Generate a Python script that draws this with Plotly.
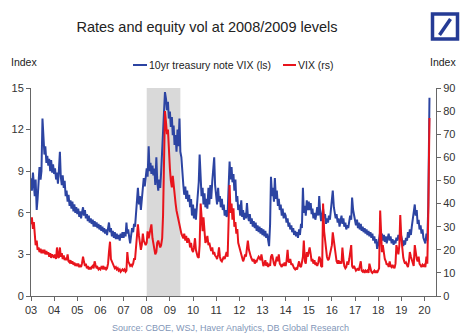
import pandas as pd
import plotly.graph_objects as go

# ---- data (semi-monthly readings, 1st and 15th of each month) ----
tyvix = [
    8.5,7.6,8.9,8.0,7.2,8.4,6.2,7.0,8.2,9.3,8.4,9.0,12.8,11.0,10.2,10.8,9.6,10.1,9.4,9.9,9.0,9.8,8.9,9.5,   # 2003
    8.8,9.2,8.4,8.9,8.1,9.0,10.4,8.6,8.0,8.7,7.8,8.3,7.2,7.6,6.8,7.3,6.5,6.9,6.3,6.8,6.1,6.6,6.0,6.4,      # 2004
    5.9,6.3,5.7,6.1,5.6,6.0,6.4,5.8,6.2,5.6,5.9,5.4,5.8,5.3,5.6,5.2,5.5,5.0,5.4,5.0,5.3,4.9,5.2,4.8,       # 2005
    5.1,4.7,5.0,4.6,4.9,4.5,4.8,4.4,5.0,5.3,4.6,4.9,4.3,4.7,4.2,4.6,4.1,4.5,4.1,4.4,4.0,4.5,4.2,4.6,       # 2006
    4.2,4.6,4.3,5.3,4.5,4.8,4.2,3.8,4.4,4.9,4.6,5.2,5.0,6.0,6.5,7.8,6.6,7.2,6.2,7.0,7.6,8.5,7.9,8.8,       # 2007
    9.2,8.6,10.8,9.0,9.6,8.8,9.4,8.7,9.2,8.0,10.0,8.3,7.6,8.4,7.8,8.9,10.5,12.8,13.6,14.7,14.2,13.4,14.0,12.8,  # 2008
    13.3,12.2,12.9,11.6,12.3,10.9,11.6,10.4,12.0,10.8,12.8,10.4,10.0,8.6,8.0,7.3,7.9,7.0,7.6,6.8,7.3,6.4,7.0,5.8,  # 2009
    6.6,5.6,6.3,5.5,6.2,6.8,8.2,10.2,8.4,7.2,7.8,6.6,7.4,6.4,7.0,6.3,7.8,6.6,8.0,7.0,8.3,9.0,10.0,8.0,     # 2010
    7.4,6.6,7.8,6.8,7.2,6.4,7.0,6.2,6.6,5.8,6.2,5.7,6.0,7.6,9.7,8.4,9.3,8.2,8.8,7.6,8.4,6.8,7.2,6.2,       # 2011
    6.6,5.8,6.9,5.7,6.2,5.5,6.0,5.6,6.7,5.8,5.4,5.9,5.2,5.6,5.0,5.4,4.9,5.3,4.7,5.1,4.6,5.0,4.5,4.9,       # 2012
    4.4,4.8,4.3,4.7,4.2,4.5,3.9,3.6,5.2,8.6,7.2,7.8,6.8,8.5,7.0,7.6,6.5,7.0,6.2,6.6,5.8,6.3,5.6,6.0,       # 2013
    5.8,5.3,5.6,5.0,5.3,4.8,5.1,4.6,4.9,4.4,4.7,4.3,4.6,4.2,4.8,4.4,5.2,4.9,7.8,6.0,6.5,5.8,6.9,6.2,       # 2014
    6.8,6.2,6.7,5.9,6.3,5.6,6.0,5.5,5.9,6.4,5.8,7.2,6.0,5.4,5.9,6.3,5.6,5.9,5.2,5.6,5.3,5.8,5.5,6.2,       # 2015
    6.5,7.6,6.4,6.0,5.6,5.9,5.3,5.6,5.0,5.4,5.8,5.2,5.6,5.0,5.3,4.8,5.1,4.9,5.4,5.8,5.5,7.1,6.2,5.9,       # 2016
    5.6,5.1,5.5,4.9,5.3,4.8,5.2,4.7,5.0,4.6,4.9,4.5,4.8,4.4,4.7,4.3,4.6,4.2,4.5,4.0,4.3,3.8,4.1,3.4,       # 2017
    3.7,4.1,4.6,4.2,4.5,4.0,4.4,3.9,4.3,3.8,4.2,4.5,4.0,4.3,3.8,4.1,3.7,4.0,3.8,4.2,4.0,4.4,4.1,4.6,       # 2018
    4.3,3.9,3.6,4.0,3.7,4.2,4.0,4.6,4.2,4.8,4.4,5.0,5.6,6.0,6.6,5.8,6.2,5.2,5.5,4.8,5.1,4.5,4.8,4.2,       # 2019
    4.0,3.8,4.5,4.0,6.5,10.5,14.3,                                                                        # 2020
]
vix = [
    31,34,29,32,27,22,24,20,21,19,20.5,18.5,20,18.5,20,18,19.5,18,19,17,18.5,16.5,18,17,                  # 2003
    16.5,18,16,21,17,16.5,21,17,18.5,16,17.5,15.5,16.5,15.5,18,15,14.5,15.5,14,15,13.5,14.5,13,14,         # 2004
    13,14,12.5,13.5,12.5,14,17,15,13,14,12,13,11.5,12.5,11.5,12.5,13,12,15,13.5,12,12.5,11.5,12,           # 2005
    11.5,12.5,12,13,11.5,12.5,11.5,12,14,19,23.5,16,15,14,13,12,12.5,11.5,12,11,11.5,10.5,11,11.5,         # 2006
    11,11.5,10.5,11,19,15,14,13,13.5,13,14,16,16,21,26,31,26,22,20,22,27,24,23,22,                        # 2007
    23,28,25,27,29,31,25,22,20,18,19,23,24,22,21,22,25,35,55,80,75,70,72,62,                              # 2008
    55,50,47,52,48,42,40,37,35,32,30,29,27,26,25,27,24,26,23,25,24,21,23,20,                              # 2009
    19,21,25,20,18,17,16.5,22,40,32,28,34,25,23,24,26,22,23,21,19.5,21,18,19,17.5,                        # 2010
    17,16,18,21,17,15.5,15,16,17,16,18,19,17,31,48,36,40,33,38,30,32,27,29,23,                            # 2011
    21,19,18,16.5,15,16,18,17,22,24,20,18,17,16,15,16,14,15.5,15,16,17,16.5,15.5,18,                      # 2012
    14,13,14,15.5,13,14.5,12.5,14,13,17,18,15,14,13,16,17,15,18,14,13.5,12.5,14,13,14.5,                  # 2013
    13,15,20,15,14.5,16,13.5,14,12.5,12,11.5,12,11.5,13,15,13,12.5,14.5,17,24,15,14,19,17,                # 2014
    19,21,18,15,16,14,15.5,13.5,14,13,14.5,17,16,13,12.5,40,28,24,22,17,15.5,16,18,20,                    # 2015
    22,27.5,24,21,17,15,14,15.5,14,15,14,21,16,13,12,12.5,15,13.5,16,18,22,13,12,13,                      # 2016
    12,11,11.5,12,11,13,15,11,10.5,11,10,11,10.5,11,10,14,11,10.5,10,10.5,11,10,11,10,                    # 2017
    11,12,37,22,19,22,18,16,15,13.5,14,12.5,15,13,12.5,13.5,12.5,12,14,22,20,18,22,35,                    # 2018
    25,19,16.5,15,14,14.5,13,12.5,15,19,17,16,14,13,22,19,16,15,17,14,13,12.5,13.5,13,                    # 2019
    13.5,12.5,17,14,35,55,77,                                                                             # 2020
]
dates = list(pd.date_range("2003-01-01", "2019-12-31", freq="SMS")) + list(
    pd.to_datetime(["2020-01-01", "2020-01-15", "2020-02-01", "2020-02-15",
                    "2020-03-01", "2020-03-10", "2020-03-20"]))

recession = ["2008-01-01", "2009-06-15"]
left_ticks = [0, 3, 6, 9, 12, 15]
right_ticks = [0, 10, 20, 30, 40, 50, 60, 70, 80, 90]

BLUE = "#2c44a2"
RED = "#e8141c"
FONT = "Liberation Sans, Arial, sans-serif"

W, H = 474, 334
L, R, T, B = 31, 436, 88, 296
def px(x):
    return (x - L) / (R - L)
def py(y):
    return (B - y) / (B - T)

fig = go.Figure()
fig.add_trace(go.Scatter(x=dates, y=tyvix, mode="lines", name="10yr treasury note VIX (ls)",
                         line=dict(color=BLUE, width=2), yaxis="y", showlegend=False))
fig.add_trace(go.Scatter(x=dates, y=vix, mode="lines", name="VIX (rs)",
                         line=dict(color=RED, width=2), yaxis="y2", showlegend=False))

axis_common = dict(showgrid=False, zeroline=False, showline=True, linecolor="#666",
                   linewidth=1, ticks="outside", ticklen=4, tickcolor="#666",
                   tickfont=dict(family=FONT, size=11, color="#333"))

fig.update_layout(
    width=W, height=H,
    margin=dict(l=L, r=W - R, t=T, b=H - B),
    paper_bgcolor="white", plot_bgcolor="white",
    font=dict(family=FONT),
    title=dict(text="Rates and equity vol at 2008/2009 levels", x=207 / W, xanchor="center",
               y=1 - 27 / H, yanchor="middle", yref="container",
               font=dict(family=FONT, size=14.5, color="#222")),
    xaxis=dict(type="date", range=["2003-01-01", "2020-07-01"], tickformat="%y",
               dtick="M12", tick0="2003-01-01", **axis_common),
    yaxis=dict(range=[0, 15], tickvals=left_ticks, **axis_common),
    yaxis2=dict(range=[0, 90], tickvals=right_ticks, overlaying="y", side="right", **axis_common),
    shapes=[
        dict(type="rect", xref="x", yref="paper", x0=recession[0], x1=recession[1], y0=0, y1=1,
             fillcolor="#d9d9d9", line=dict(width=0), layer="below"),
        # legend keys
        dict(type="line", xref="paper", yref="paper", x0=px(133), x1=px(147), y0=py(65), y1=py(65),
             line=dict(color=BLUE, width=2)),
        dict(type="line", xref="paper", yref="paper", x0=px(283), x1=px(296), y0=py(65), y1=py(65),
             line=dict(color=RED, width=2)),
        # logo
        dict(type="rect", xref="paper", yref="paper", x0=px(432.5), x1=px(457.5), y0=py(14), y1=py(39),
             line=dict(color="#253b95", width=3.5), fillcolor="rgba(0,0,0,0)"),
        dict(type="line", xref="paper", yref="paper", x0=px(439.5), x1=px(450.5), y0=py(35), y1=py(19),
             line=dict(color="#253b95", width=3.5)),
    ],
    annotations=[
        dict(text="Index", xref="paper", yref="paper", x=px(24), y=py(62), xanchor="center",
             yanchor="middle", showarrow=False, font=dict(family=FONT, size=10.5, color="#222")),
        dict(text="Index", xref="paper", yref="paper", x=px(443), y=py(62), xanchor="center",
             yanchor="middle", showarrow=False, font=dict(family=FONT, size=10.5, color="#222")),
        dict(text="10yr treasury note VIX (ls)", xref="paper", yref="paper", x=px(147), y=py(65),
             xanchor="left", yanchor="middle", showarrow=False,
             font=dict(family=FONT, size=10.5, color="#222")),
        dict(text="VIX (rs)", xref="paper", yref="paper", x=px(296), y=py(65),
             xanchor="left", yanchor="middle", showarrow=False,
             font=dict(family=FONT, size=10.5, color="#222")),
        dict(text="Source: CBOE, WSJ, Haver Analytics, DB Global Research", xref="paper", yref="paper",
             x=px(230.5), y=py(328), xanchor="center", yanchor="middle", showarrow=False,
             font=dict(family=FONT, size=9, color="#8296b8")),
    ],
)

fig.write_html("out.html")
